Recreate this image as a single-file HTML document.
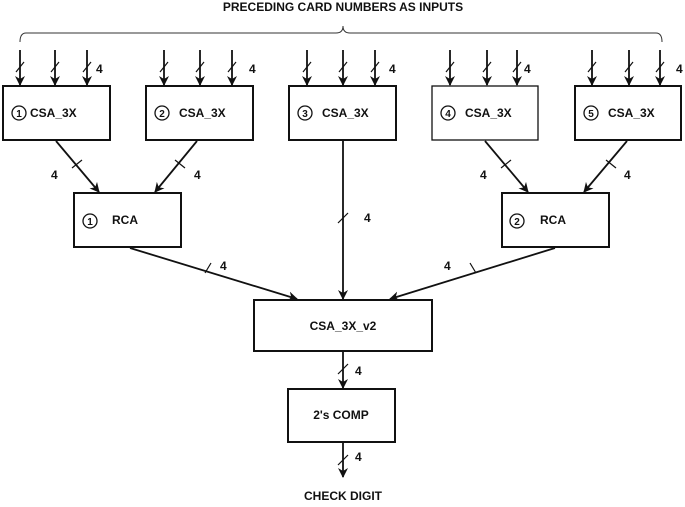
<!DOCTYPE html>
<html><head><meta charset="utf-8"><style>
html,body{margin:0;padding:0;background:#fff;}
svg text{font-family:"Liberation Sans",Arial,sans-serif;font-weight:bold;fill:#111;}
</style></head><body>
<svg width="685" height="502" viewBox="0 0 685 502" xmlns="http://www.w3.org/2000/svg">
<defs><marker id="a" markerWidth="10" markerHeight="10" refX="9" refY="5" orient="auto" markerUnits="userSpaceOnUse"><path d="M0,0 L10,5 L0,10 L3,5 z" fill="#111"/></marker></defs>
<text x="343" y="11" font-size="12" text-anchor="middle">PRECEDING CARD NUMBERS AS INPUTS</text>
<path d="M20,42 Q20,33 26,33 L336,33 Q343,33 343,26 Q343,33 350,33 L656,33 Q662,33 662,42" fill="none" stroke="#333" stroke-width="1"/>
<g stroke="#111" stroke-width="2" fill="none">
<rect x="3" y="86" width="107" height="54"/>
<rect x="146" y="86" width="107" height="54"/>
<rect x="289" y="86" width="107" height="54"/>
<rect x="432" y="86" width="106" height="54" stroke-width="1.3"/>
<rect x="575" y="86" width="106" height="54"/>
<rect x="74" y="193" width="107" height="54"/>
<rect x="502" y="193" width="107" height="54"/>
<rect x="254" y="300" width="178" height="51"/>
<rect x="288" y="389" width="107" height="53"/>
</g>
<g stroke="#111" stroke-width="1.8" fill="none" marker-end="url(#a)">
<line x1="20" y1="50" x2="20" y2="85"/><line x1="55" y1="50" x2="55" y2="85"/><line x1="87" y1="50" x2="87" y2="85"/>
<line x1="164" y1="50" x2="164" y2="85"/><line x1="200" y1="50" x2="200" y2="85"/><line x1="232" y1="50" x2="232" y2="85"/>
<line x1="307" y1="50" x2="307" y2="85"/><line x1="343" y1="50" x2="343" y2="85"/><line x1="375" y1="50" x2="375" y2="85"/>
<line x1="450" y1="50" x2="450" y2="85"/><line x1="487" y1="50" x2="487" y2="85"/><line x1="517" y1="50" x2="517" y2="85"/>
<line x1="592" y1="50" x2="592" y2="85"/><line x1="629" y1="50" x2="629" y2="85"/><line x1="660" y1="50" x2="660" y2="85"/>
<line x1="56" y1="141" x2="99" y2="192"/>
<line x1="197" y1="141" x2="155" y2="192"/>
<line x1="485" y1="141" x2="528" y2="192"/>
<line x1="627" y1="141" x2="584" y2="192"/>
<line x1="343" y1="141" x2="343" y2="299"/>
<line x1="130" y1="248" x2="297" y2="299"/>
<line x1="555" y1="248" x2="390" y2="299"/>
<line x1="343" y1="352" x2="343" y2="388"/>
<line x1="343" y1="443" x2="343" y2="477"/>
</g>
<g stroke="#111" stroke-width="1.2">
<line x1="16" y1="72" x2="24" y2="62"/><line x1="51" y1="72" x2="59" y2="62"/><line x1="83" y1="72" x2="91" y2="62"/>
<line x1="160" y1="72" x2="168" y2="62"/><line x1="196" y1="72" x2="204" y2="62"/><line x1="228" y1="72" x2="236" y2="62"/>
<line x1="303" y1="72" x2="311" y2="62"/><line x1="339" y1="72" x2="347" y2="62"/><line x1="371" y1="72" x2="379" y2="62"/>
<line x1="446" y1="72" x2="454" y2="62"/><line x1="483" y1="72" x2="491" y2="62"/><line x1="513" y1="72" x2="521" y2="62"/>
<line x1="588" y1="72" x2="596" y2="62"/><line x1="625" y1="72" x2="633" y2="62"/><line x1="656" y1="72" x2="664" y2="62"/>
<line x1="72" y1="168" x2="82" y2="160"/>
<line x1="175" y1="160" x2="185" y2="168"/>
<line x1="501" y1="168" x2="511" y2="160"/>
<line x1="606" y1="160" x2="616" y2="168"/>
<line x1="338" y1="223" x2="348" y2="213"/>
<line x1="205" y1="273" x2="211" y2="263"/>
<line x1="470" y1="263" x2="476" y2="273"/>
<line x1="338" y1="374" x2="348" y2="364"/>
<line x1="338" y1="465" x2="348" y2="455"/>
</g>
<g font-size="12">
<text x="96" y="73">4</text><text x="249" y="73">4</text><text x="389" y="73">4</text><text x="524" y="73">4</text><text x="676" y="73">4</text>
<text x="51" y="179">4</text><text x="194" y="179">4</text><text x="480" y="179">4</text><text x="624" y="179">4</text>
<text x="364" y="222">4</text><text x="220" y="270">4</text><text x="444" y="270">4</text>
<text x="355" y="375">4</text><text x="355" y="461">4</text>
<text x="343" y="500" text-anchor="middle">CHECK DIGIT</text>
<text x="30" y="117">CSA_3X</text><text x="179" y="117">CSA_3X</text><text x="322" y="117">CSA_3X</text><text x="465" y="117">CSA_3X</text><text x="608" y="117">CSA_3X</text>
<text x="112" y="224">RCA</text><text x="540" y="224">RCA</text>
<text x="343" y="330" text-anchor="middle">CSA_3X_v2</text>
<text x="341" y="419" text-anchor="middle">2's COMP</text>
</g>
<g stroke="#111" stroke-width="1.3" fill="none">
<circle cx="19" cy="113" r="7"/><circle cx="162" cy="113" r="7"/><circle cx="305" cy="113" r="7"/><circle cx="448" cy="113" r="7"/><circle cx="591" cy="113" r="7"/>
<circle cx="90" cy="221" r="7"/><circle cx="517" cy="221" r="7"/>
</g>
<g font-size="10" text-anchor="middle" style="font-weight:normal">
<text x="19" y="117">1</text><text x="162" y="117">2</text><text x="305" y="117">3</text><text x="448" y="117">4</text><text x="591" y="117">5</text>
<text x="90" y="225">1</text><text x="517" y="225">2</text>
</g>
</svg>
</body></html>
